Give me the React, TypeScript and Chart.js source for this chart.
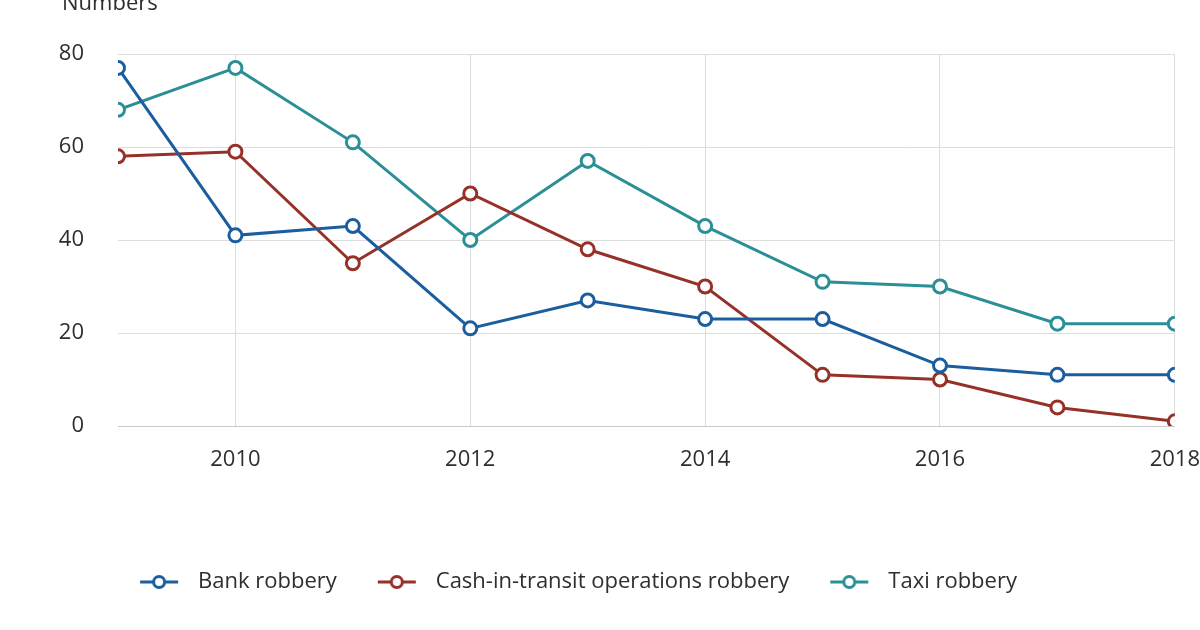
import React, { useEffect, useRef } from "react";
import { Chart, registerables } from "chart.js";

Chart.register(...registerables);

const years = ["2009", "2010", "2011", "2012", "2013", "2014", "2015", "2016", "2017", "2018"];
const bankRobbery = [77, 41, 43, 21, 27, 23, 23, 13, 11, 11];
const cashInTransit = [58, 59, 35, 50, 38, 30, 11, 10, 4, 1];
const taxiRobbery = [68, 77, 61, 40, 57, 43, 31, 30, 22, 22];
const yTicks = [0, 20, 40, 60, 80];

const BLUE = "#1b5e9f";
const RED = "#963128";
const TEAL = "#2b8f97";
const TEXT = "#2e2e2e";
const FONT = "'Open Sans', sans-serif";

// legend marker: short line with an open circle on it
function legendMarker(color: string) {
    const c = document.createElement("canvas");
    c.width = 48;
    c.height = 16;
    const ctx = c.getContext("2d");
    if (ctx) {
        ctx.strokeStyle = color;
        ctx.lineWidth = 3;
        ctx.beginPath();
        ctx.moveTo(1, 8);
        ctx.lineTo(39, 8);
        ctx.stroke();
        ctx.beginPath();
        ctx.arc(20, 8, 5.5, 0, Math.PI * 2);
        ctx.fillStyle = "#fff";
        ctx.fill();
        ctx.stroke();
    }
    return c;
}

export default function App() {
    const canvasRef = useRef<HTMLCanvasElement | null>(null);
    const chartRef = useRef<Chart | null>(null);

    useEffect(() => {
        const canvas = canvasRef.current;
        if (!canvas) return;
        if (chartRef.current) chartRef.current.destroy();

        const mk = (label: string, data: number[], color: string) => ({
            label,
            data,
            borderColor: color,
            backgroundColor: "#fff",
            borderWidth: 3,
            pointRadius: 6.5,
            pointBorderWidth: 3,
            pointBackgroundColor: "#fff",
            pointBorderColor: color,
            tension: 0,
            clip: 0,
        });

        chartRef.current = new Chart(canvas, {
            type: "line",
            data: {
                labels: years,
                datasets: [
                    mk("Bank robbery", bankRobbery, BLUE),
                    mk("Cash-in-transit operations robbery", cashInTransit, RED),
                    mk("Taxi robbery", taxiRobbery, TEAL),
                ],
            },
            options: {
                responsive: false,
                animation: false,
                layout: { padding: { top: 54, left: 0, right: 0, bottom: 27 } },
                plugins: {
                    tooltip: { enabled: false },
                    legend: {
                        position: "bottom",
                        labels: {
                            usePointStyle: true,
                            pointStyleWidth: 48,
                            boxHeight: 16,
                            padding: 40,
                            color: TEXT,
                            font: { family: FONT, size: 22 },
                            generateLabels: (chart: any) => {
                                const items = Chart.defaults.plugins.legend.labels.generateLabels(chart);
                                const colors = [BLUE, RED, TEAL];
                                return items.map((it: any, i: number) => ({ ...it, pointStyle: legendMarker(colors[i]) }));
                            },
                        },
                    },
                },
                scales: {
                    x: {
                        type: "category",
                        offset: false,
                        grid: {
                            drawTicks: false,
                            color: (ctx: any) => (ctx.index % 2 === 1 ? "#dddddd" : "rgba(0,0,0,0)"),
                        },
                        border: { display: true, color: "#c8c8c8" },
                        ticks: {
                            autoSkip: false,
                            maxRotation: 0,
                            padding: 21,
                            color: TEXT,
                            font: { family: FONT, size: 22 },
                            callback: (_v: any, i: number) => (i % 2 === 1 ? years[i] : ""),
                        },
                        afterFit: (s: any) => {
                            s.height = 105;
                        },
                    },
                    y: {
                        min: 0,
                        max: 80,
                        afterBuildTicks: (s: any) => {
                            s.ticks = yTicks.map((v) => ({ value: v }));
                        },
                        grid: { drawTicks: false, color: "#dddddd" },
                        border: { display: false },
                        ticks: {
                            padding: 34,
                            color: TEXT,
                            font: { family: FONT, size: 22 },
                        },
                        afterFit: (s: any) => {
                            s.width = 183;
                        },
                    },
                },
            } as any,
        });

        return () => {
            if (chartRef.current) {
                chartRef.current.destroy();
                chartRef.current = null;
            }
        };
    }, []);

    return (
        <div style={{ position: "fixed", left: 0, top: 0, width: 1200, height: 630, background: "#fff", overflow: "hidden" }}>
            <canvas ref={canvasRef} width={1286} height={630} style={{ position: "absolute", left: -65, top: 0 }} />
            <div
                style={{
                    position: "absolute",
                    left: 62,
                    top: -14,
                    fontFamily: FONT,
                    fontSize: 22,
                    color: TEXT,
                }}
            >
                Numbers
            </div>
        </div>
    );
}
